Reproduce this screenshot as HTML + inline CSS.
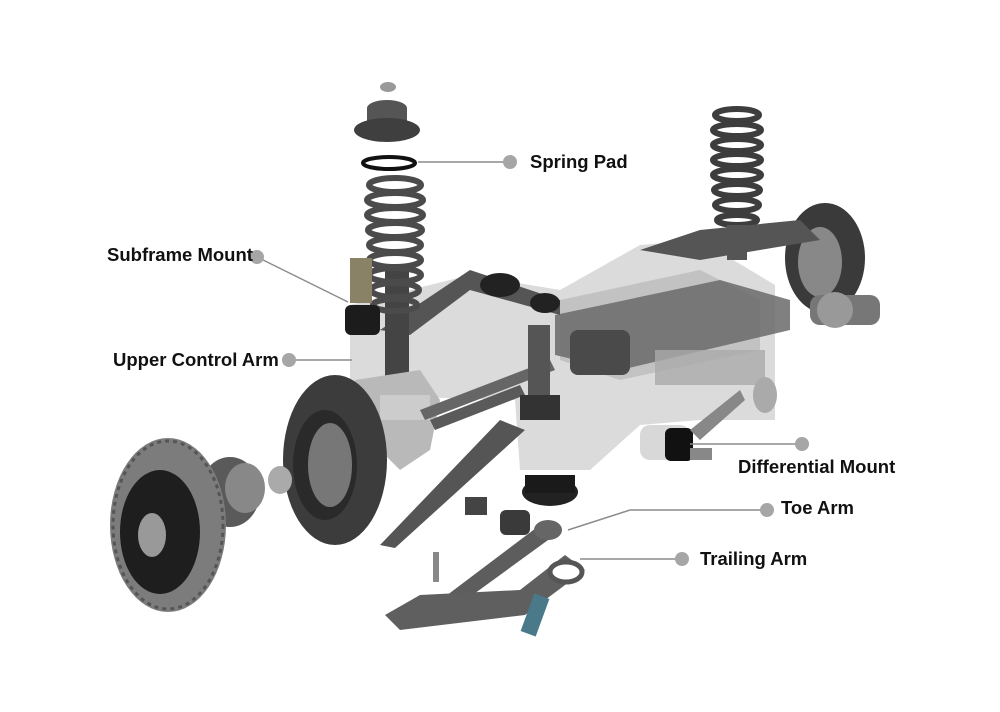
<!DOCTYPE html>
<html><head><meta charset="utf-8"><style>
html,body{margin:0;padding:0;background:#fff;}
svg{display:block}
text{font-family:"Liberation Sans",Arial,sans-serif;font-weight:bold;font-size:18.5px;fill:#111;}
</style></head><body>
<svg width="1000" height="712" viewBox="0 0 1000 712" xmlns="http://www.w3.org/2000/svg">
<path d="M350,305 L470,275 L560,290 L640,245 L700,240 L775,285 L775,420 L700,420 L640,425 L590,470 L520,470 L515,400 L350,395 Z" fill="#cfcfcf" opacity="0.75"/>
<path d="M560,300 L700,270 L760,300 L760,350 L620,380 L560,360 Z" fill="#b8b8b8" opacity="0.7"/>
<g stroke="#3d3d3d" stroke-width="6" fill="none">
<ellipse cx="737" cy="115" rx="22" ry="6"/><ellipse cx="737" cy="130" rx="24" ry="6"/><ellipse cx="737" cy="145" rx="24" ry="6"/><ellipse cx="737" cy="160" rx="24" ry="6"/><ellipse cx="737" cy="175" rx="24" ry="6"/><ellipse cx="737" cy="190" rx="23" ry="6"/><ellipse cx="737" cy="205" rx="22" ry="6"/><ellipse cx="737" cy="220" rx="20" ry="5"/>
</g>
<rect x="727" y="225" width="20" height="35" fill="#555"/>
<ellipse cx="825" cy="258" rx="40" ry="55" fill="#3a3a3a"/>
<ellipse cx="820" cy="262" rx="22" ry="35" fill="#888"/>
<path d="M640,250 L700,230 L800,220 L820,240 L700,260 Z" fill="#555"/>
<rect x="810" y="295" width="70" height="30" rx="10" fill="#777"/>
<ellipse cx="835" cy="310" rx="18" ry="18" fill="#999"/>
<path d="M555,315 L720,280 L790,300 L790,330 L620,370 L555,355 Z" fill="#6a6a6a" opacity="0.85"/>
<rect x="570" y="330" width="60" height="45" rx="8" fill="#4a4a4a"/>
<rect x="655" y="350" width="110" height="35" fill="#aaa" opacity="0.8"/>
<path d="M380,330 L470,270 L560,300 L560,315 L470,290 L410,335 Z" fill="#555"/>
<ellipse cx="500" cy="285" rx="20" ry="12" fill="#222"/>
<ellipse cx="545" cy="303" rx="15" ry="10" fill="#222"/>
<rect x="385" y="265" width="24" height="120" fill="#444"/>
<g stroke="#4b4b4b" stroke-width="6" fill="none">
<ellipse cx="395" cy="185" rx="26" ry="7"/><ellipse cx="395" cy="200" rx="28" ry="7"/><ellipse cx="395" cy="215" rx="28" ry="7"/><ellipse cx="395" cy="230" rx="27" ry="7"/><ellipse cx="395" cy="245" rx="26" ry="7"/><ellipse cx="395" cy="260" rx="26" ry="7"/><ellipse cx="395" cy="275" rx="26" ry="7"/><ellipse cx="395" cy="290" rx="24" ry="7"/><ellipse cx="395" cy="305" rx="22" ry="6"/>
</g>
<rect x="350" y="258" width="22" height="45" fill="#8a8266"/>
<rect x="345" y="305" width="35" height="30" rx="6" fill="#1c1c1c"/>
<ellipse cx="388" cy="87" rx="8" ry="5" fill="#999"/>
<ellipse cx="387" cy="108" rx="20" ry="8" fill="#555"/>
<rect x="367" y="108" width="40" height="16" fill="#555"/>
<ellipse cx="387" cy="130" rx="33" ry="12" fill="#3f3f3f"/>
<ellipse cx="389" cy="163" rx="26" ry="6" fill="none" stroke="#111" stroke-width="4"/>
<path d="M355,380 L420,370 L440,400 L430,450 L400,470 L370,440 Z" fill="#b9b9b9"/>
<rect x="380" y="395" width="50" height="25" fill="#ccc"/>
<path d="M380,545 L500,420 L525,430 L395,548 Z" fill="#555"/>
<path d="M420,410 L550,360 L555,370 L425,420 Z" fill="#666"/>
<path d="M430,420 L520,385 L525,395 L435,430 Z" fill="#5a5a5a"/>
<ellipse cx="335" cy="460" rx="52" ry="85" fill="#3c3c3c"/>
<ellipse cx="325" cy="465" rx="32" ry="55" fill="#2a2a2a"/>
<ellipse cx="330" cy="465" rx="22" ry="42" fill="#777"/>
<ellipse cx="280" cy="480" rx="12" ry="14" fill="#aaa"/>
<ellipse cx="230" cy="492" rx="30" ry="35" fill="#5a5a5a"/>
<ellipse cx="245" cy="488" rx="20" ry="25" fill="#888"/>
<ellipse cx="168" cy="525" rx="58" ry="87" fill="#7c7c7c"/>
<ellipse cx="160" cy="532" rx="40" ry="62" fill="#1e1e1e"/>
<ellipse cx="152" cy="535" rx="14" ry="22" fill="#999"/>
<ellipse cx="168" cy="525" rx="55" ry="84" fill="none" stroke="#555" stroke-width="3" stroke-dasharray="4 4"/>
<rect x="528" y="325" width="22" height="80" fill="#555"/>
<rect x="520" y="395" width="40" height="25" fill="#333"/>
<ellipse cx="550" cy="492" rx="28" ry="14" fill="#222"/>
<rect x="525" y="475" width="50" height="18" fill="#1a1a1a"/>
<rect x="465" y="497" width="22" height="18" fill="#444"/>
<rect x="500" y="510" width="30" height="25" rx="6" fill="#3a3a3a"/>
<path d="M430,608 L540,525 L555,535 L445,615 Z" fill="#5d5d5d"/>
<ellipse cx="548" cy="530" rx="14" ry="10" fill="#666"/>
<rect x="433" y="552" width="6" height="30" fill="#888"/>
<path d="M385,615 L420,595 L520,590 L565,555 L585,570 L525,615 L400,630 Z" fill="#5f5f5f"/>
<ellipse cx="566" cy="572" rx="16" ry="10" fill="#fff" stroke="#555" stroke-width="5"/>
<rect x="527" y="595" width="16" height="40" fill="#4a7a8a" transform="rotate(20 535 615)"/>
<rect x="640" y="425" width="50" height="35" rx="10" fill="#d8d8d8"/>
<rect x="665" y="428" width="28" height="33" rx="6" fill="#111"/>
<rect x="690" y="448" width="22" height="12" fill="#888"/>
<path d="M690,430 L740,390 L745,400 L700,440 Z" fill="#888"/>
<ellipse cx="765" cy="395" rx="12" ry="18" fill="#aaa"/>
<g stroke="#8c8c8c" stroke-width="1.5" fill="none">
<line x1="418" y1="162" x2="508" y2="162"/>
<line x1="257" y1="257" x2="348" y2="302"/>
<line x1="289" y1="360" x2="352" y2="360"/>
<line x1="690" y1="444" x2="800" y2="444"/>
<polyline points="568,530 630,510 765,510"/>
<line x1="580" y1="559" x2="680" y2="559"/>
</g>
<g fill="#a6a6a6">
<circle cx="510" cy="162" r="7"/>
<circle cx="257" cy="257" r="7"/>
<circle cx="289" cy="360" r="7"/>
<circle cx="802" cy="444" r="7"/>
<circle cx="767" cy="510" r="7"/>
<circle cx="682" cy="559" r="7"/>
</g>
<text x="530" y="168">Spring Pad</text>
<text x="107" y="261">Subframe Mount</text>
<text x="113" y="366">Upper Control Arm</text>
<text x="738" y="473">Differential Mount</text>
<text x="781" y="514">Toe Arm</text>
<text x="700" y="565">Trailing Arm</text>
</svg>
</body></html>
